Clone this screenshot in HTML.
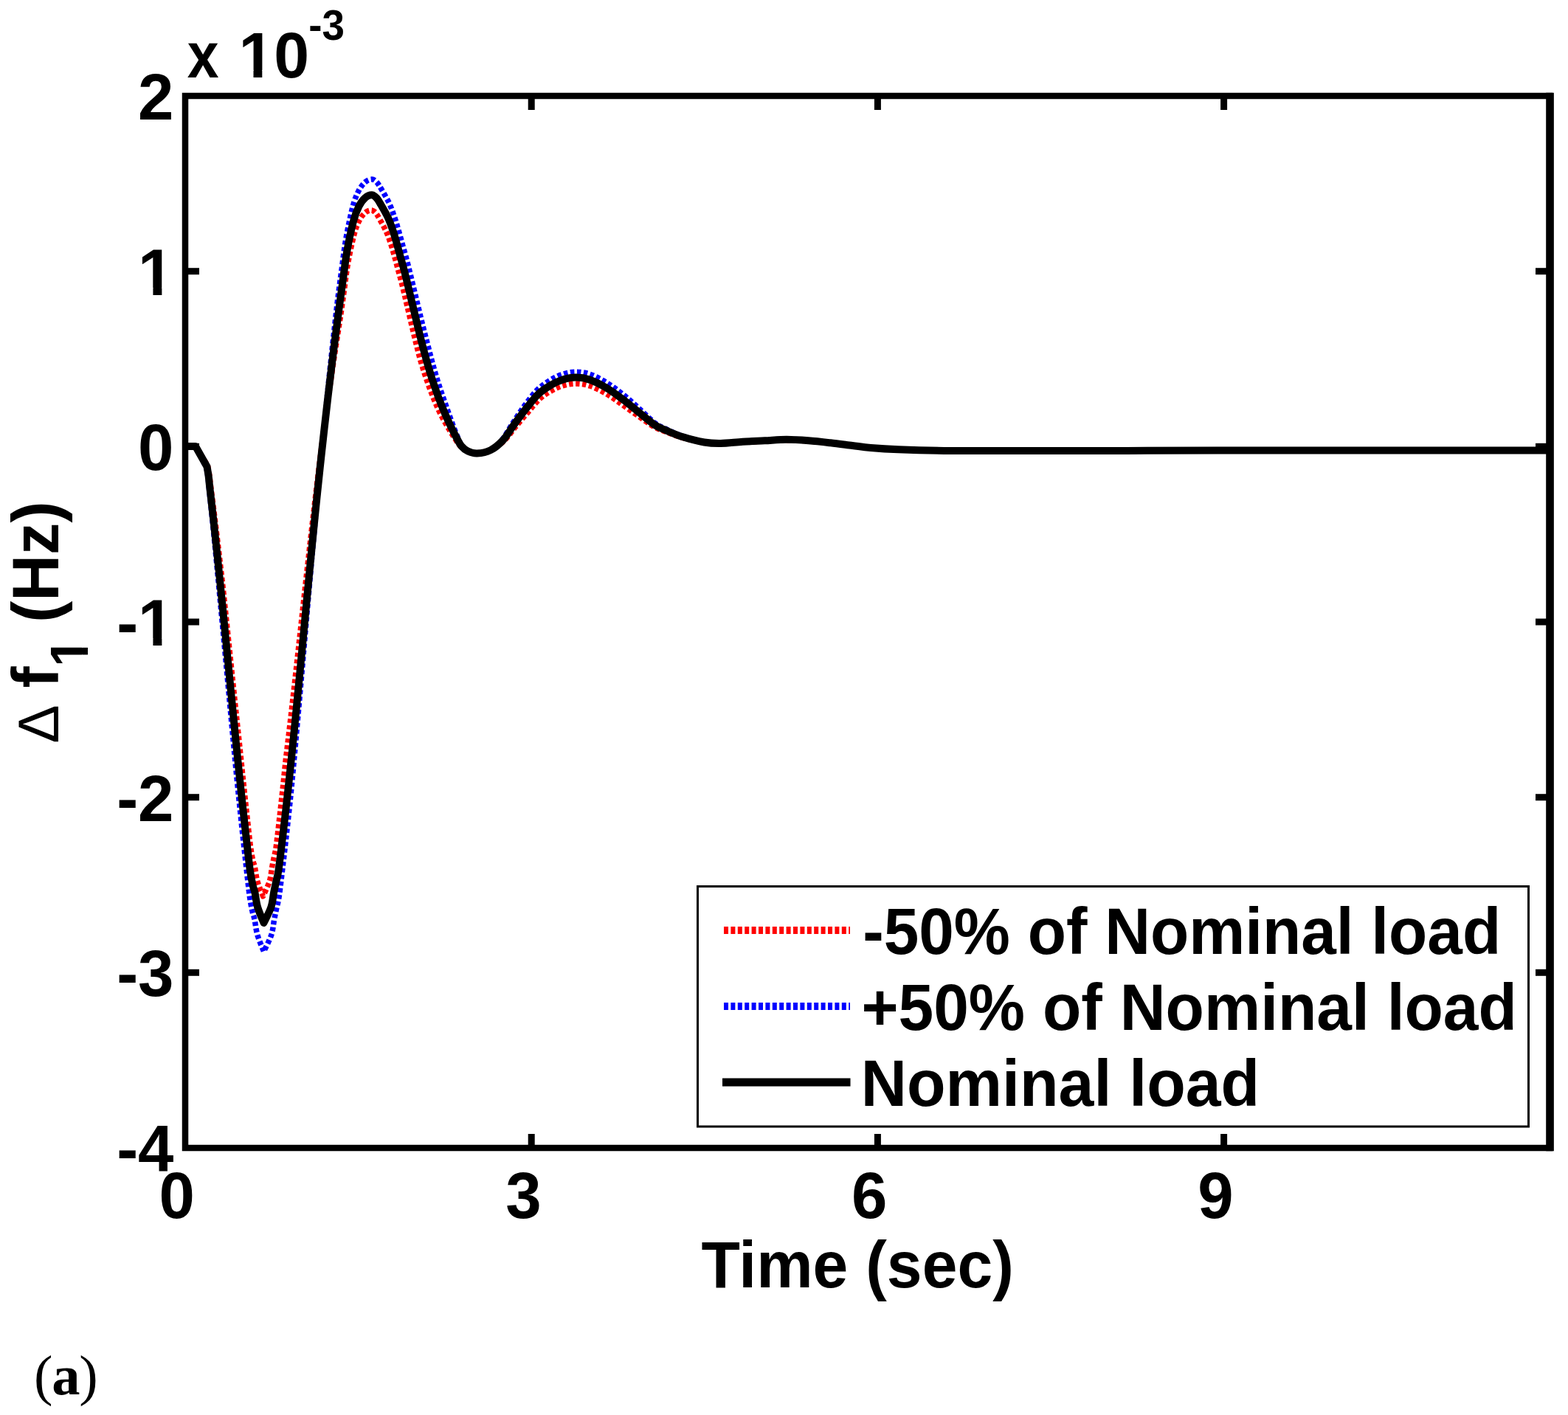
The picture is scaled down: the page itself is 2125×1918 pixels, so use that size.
<!DOCTYPE html>
<html><head><meta charset="utf-8"><title>Delta f1 vs time</title><style>
html,body{margin:0;padding:0;background:#fff;}
body{width:2125px;height:1918px;overflow:hidden;}
svg{display:block;}
.b{font-family:"Liberation Sans",Arial,Helvetica,sans-serif;font-weight:bold;fill:#000;}
.r{font-family:"Liberation Sans",Arial,Helvetica,sans-serif;font-weight:normal;fill:#000;}
</style></head><body>
<svg width="2125" height="1918" viewBox="0 0 2125 1918">
<rect x="0" y="0" width="2125" height="1918" fill="#fff"/>
<g fill="none" stroke-linejoin="round" stroke-linecap="butt">
<path d="M251.00,605.00 C253.33,605.00 262.67,605.00 265.00,605.00 C267.73,609.33 278.65,626.63 281.39,630.96 C281.76,632.93 282.95,638.43 283.61,642.76 C284.26,647.09 284.21,648.27 285.30,656.92 C286.38,665.57 288.55,682.09 290.13,694.68 C291.70,707.27 293.23,719.85 294.74,732.44 C296.24,745.03 297.71,757.61 299.17,770.20 C300.62,782.79 302.05,795.37 303.39,807.96 C304.73,820.55 306.05,833.13 307.37,845.72 C308.69,858.31 310.00,870.89 311.31,883.48 C312.62,896.07 313.93,908.65 315.24,921.24 C316.56,933.83 317.87,946.41 319.20,959.00 C320.53,971.59 321.88,984.17 323.24,996.76 C324.61,1009.35 325.90,1021.93 327.18,1034.52 C328.47,1047.11 329.77,1059.69 331.11,1072.28 C332.45,1084.87 333.81,1097.45 335.22,1110.04 C336.62,1122.63 338.26,1138.36 339.54,1147.80 C340.82,1157.24 341.91,1162.01 342.90,1166.68 C343.88,1171.35 344.46,1171.20 345.45,1175.84 C346.44,1180.48 346.99,1188.03 348.83,1194.53 C350.67,1201.03 355.22,1211.44 356.50,1214.82 C357.97,1211.44 363.29,1200.93 365.31,1194.40 C367.33,1187.86 367.59,1181.09 368.60,1175.65 C369.61,1170.20 370.42,1166.41 371.36,1161.72 C372.30,1157.03 373.00,1156.19 374.22,1147.51 C375.43,1138.84 377.23,1122.30 378.67,1109.70 C380.10,1097.10 381.49,1084.50 382.84,1071.90 C384.19,1059.30 385.49,1046.70 386.76,1034.11 C388.23,1021.52 389.75,1008.93 391.24,996.34 C392.73,983.75 394.18,971.16 395.62,958.57 C397.06,945.99 398.47,933.40 399.88,920.82 C401.28,908.24 402.67,895.66 404.05,883.08 C405.43,870.50 406.80,857.92 408.18,845.35 C409.55,832.77 410.92,820.20 412.31,807.62 C413.69,795.05 415.08,782.48 416.48,769.91 C417.88,757.34 419.29,744.77 420.71,732.20 C422.14,719.63 423.58,707.06 425.05,694.50 C426.52,681.93 428.01,669.37 429.52,656.81 C431.04,644.25 432.58,631.69 434.15,619.13 C435.75,606.57 437.40,594.01 439.09,581.46 C440.79,568.90 442.51,556.35 444.27,543.80 C446.03,531.25 447.83,518.70 449.67,506.15 C451.51,493.60 453.38,481.05 455.30,468.51 C457.21,455.97 459.17,443.42 461.17,430.88 C462.98,418.35 464.70,405.81 466.44,393.27 C468.19,380.74 469.52,368.31 471.78,355.68 C474.04,343.04 477.48,326.92 480.01,317.46 C482.55,308.00 484.49,303.79 486.99,298.90 C489.49,294.02 492.26,290.53 495.01,288.17 C497.76,285.82 501.06,284.72 503.50,284.89 C505.89,285.06 507.61,286.91 509.51,289.07 C511.40,291.22 512.49,293.55 514.86,297.82 C517.24,302.08 521.24,309.07 523.73,314.65 C526.23,320.22 528.00,325.71 529.83,331.26 C531.66,336.80 533.17,342.35 534.73,347.89 C536.28,353.43 537.67,358.97 539.16,364.50 C540.66,370.03 542.26,375.56 543.69,381.09 C545.12,386.61 546.46,392.24 547.76,397.65 C549.06,403.05 550.14,407.75 551.50,413.53 C552.86,419.30 554.46,426.05 555.93,432.30 C557.41,438.56 558.86,444.81 560.36,451.06 C561.85,457.31 563.34,463.55 564.91,469.79 C566.47,476.04 568.06,482.28 569.81,488.51 C571.68,494.75 573.60,500.98 575.65,507.22 C577.70,513.44 579.83,519.67 582.12,525.90 C584.42,532.12 586.82,538.34 589.41,544.56 C592.00,550.77 594.72,556.99 598.00,563.20 C601.28,569.40 605.28,576.38 608.50,581.80 C611.71,587.22 614.74,591.92 617.31,595.73 C619.87,599.53 621.13,602.08 623.89,604.63 C626.66,607.18 629.60,609.49 633.32,611.02 C637.04,612.54 641.05,614.00 646.47,613.78 C651.88,613.56 659.69,612.40 665.79,609.70 C671.90,607.01 677.61,602.87 683.12,597.64 C688.63,592.41 693.39,584.89 698.87,578.35 C704.35,571.82 710.26,564.71 715.99,558.41 C721.20,552.11 726.41,545.34 731.61,540.55 C736.80,535.77 742.02,532.67 747.20,529.71 C752.38,526.76 757.17,524.45 762.70,522.83 C768.23,521.22 774.33,519.95 780.38,520.01 C786.48,520.01 792.52,520.86 799.14,523.01 C805.76,525.16 813.13,528.95 820.10,532.93 C827.08,536.90 834.01,541.88 840.97,546.85 C848.02,551.83 855.73,557.48 863.43,562.78 C871.13,568.07 880.04,574.88 886.54,578.61 C893.04,582.34 895.85,582.72 902.30,585.16 C908.52,587.60 915.92,590.79 924.60,593.26 C933.28,595.73 945.72,598.65 954.40,600.00 C963.08,601.34 968.02,601.47 976.70,601.36 C985.38,601.25 996.57,599.92 1006.50,599.36 C1016.43,598.80 1026.38,598.45 1036.30,597.99 C1046.22,597.54 1056.08,596.63 1066.00,596.63 C1075.92,596.63 1085.88,597.31 1095.80,597.99 C1105.72,598.68 1115.58,599.71 1125.50,600.72 C1135.42,601.74 1146.22,603.07 1155.30,604.09 C1164.38,605.11 1169.62,606.02 1180.00,606.82 C1190.38,607.62 1199.43,608.31 1217.60,608.91 C1235.77,609.52 1257.27,610.20 1289.00,610.46 C1320.73,610.72 1368.33,610.46 1408.00,610.46 C1447.67,610.46 1486.67,610.54 1527.00,610.46 C1567.33,610.38 1554.50,610.08 1650.00,610.00 C1745.50,609.93 2025.00,610.00 2100.00,610.00" stroke="#ff0000" stroke-width="7.5" stroke-dasharray="5.5 3.5"/>
<path d="M251.00,605.00 C253.33,605.00 262.67,605.00 265.00,605.00 C267.49,609.86 277.47,629.29 279.97,634.15 C280.31,636.36 281.40,642.54 282.00,647.40 C282.59,652.26 282.55,653.58 283.54,663.30 C284.53,673.02 286.52,691.57 287.96,705.70 C289.39,719.83 290.79,733.97 292.17,748.10 C293.54,762.23 294.88,776.37 296.21,790.50 C297.54,804.63 298.85,818.77 300.19,832.90 C301.53,847.03 302.85,861.17 304.17,875.30 C305.49,889.43 306.80,903.57 308.11,917.70 C309.42,931.83 310.73,945.97 312.04,960.10 C313.36,974.23 314.67,988.37 316.00,1002.50 C317.33,1016.63 318.68,1030.77 320.04,1044.90 C321.41,1059.03 322.82,1073.17 324.27,1087.30 C325.73,1101.43 327.21,1115.57 328.72,1129.70 C330.24,1143.83 331.79,1157.97 333.38,1172.10 C334.97,1186.23 336.82,1203.90 338.27,1214.50 C339.72,1225.10 340.96,1230.45 342.08,1235.70 C343.20,1240.95 343.86,1240.77 344.98,1245.98 C346.10,1251.19 346.72,1259.67 348.81,1266.97 C350.89,1274.27 356.05,1285.96 357.50,1289.76 C359.22,1285.96 365.47,1274.31 367.83,1267.04 C370.20,1259.76 370.51,1252.16 371.69,1246.08 C372.87,1239.99 373.83,1235.76 374.93,1230.52 C376.02,1225.28 376.85,1224.35 378.28,1214.64 C379.70,1204.94 381.81,1186.40 383.49,1172.27 C385.18,1158.15 386.80,1144.02 388.39,1129.89 C389.97,1115.76 391.49,1101.63 392.99,1087.50 C394.41,1073.37 395.77,1059.24 397.09,1045.11 C398.42,1030.98 399.71,1016.85 400.99,1002.71 C402.27,988.58 403.52,974.44 404.77,960.31 C406.02,946.17 407.25,932.04 408.48,917.90 C409.71,903.76 410.93,889.63 412.15,875.49 C413.38,861.35 414.59,847.21 415.82,833.07 C417.05,818.93 418.29,804.79 419.53,790.65 C420.78,776.51 422.03,762.36 423.30,748.22 C424.57,734.08 425.85,719.93 427.15,705.79 C428.46,691.65 429.78,677.50 431.13,663.36 C432.48,649.21 433.85,635.06 435.25,620.92 C436.61,606.77 437.96,592.62 439.34,578.47 C440.71,564.32 442.12,550.17 443.55,536.02 C444.99,521.87 446.46,507.72 447.95,493.57 C449.45,479.41 450.98,465.26 452.54,451.11 C454.10,436.95 455.69,422.79 457.32,408.64 C459.09,394.48 460.99,380.32 462.92,366.16 C464.86,352.00 466.33,337.97 468.84,323.68 C471.35,309.39 475.16,291.15 477.97,280.44 C480.78,269.72 482.93,264.93 485.70,259.38 C488.47,253.83 491.54,249.83 494.59,247.13 C497.64,244.43 501.30,243.06 504.00,243.09 C506.77,243.12 508.77,245.10 510.97,247.41 C513.16,249.72 514.43,252.28 517.18,256.96 C519.93,261.64 524.58,269.31 527.47,275.48 C530.37,281.65 532.42,287.78 534.55,293.97 C536.67,300.16 538.42,306.39 540.23,312.60 C542.03,318.82 543.64,325.04 545.37,331.26 C547.11,337.48 548.96,343.70 550.62,349.92 C552.29,356.14 553.83,362.50 555.34,368.60 C556.85,374.71 558.10,380.02 559.68,386.55 C561.26,393.09 563.11,400.72 564.83,407.81 C566.54,414.90 568.23,421.98 569.96,429.07 C571.70,436.17 573.42,443.26 575.23,450.35 C577.05,457.45 578.89,464.54 580.78,471.64 C582.56,478.74 584.39,485.84 586.34,492.94 C588.30,500.04 590.33,507.15 592.52,514.25 C594.70,521.36 597.00,528.47 599.46,535.57 C601.93,542.69 604.52,549.80 606.92,556.91 C609.31,564.03 612.21,572.04 614.55,578.27 C616.89,584.50 619.09,589.92 620.95,594.30 C622.82,598.69 623.73,601.63 625.74,604.57 C627.75,607.51 630.47,610.19 634.00,611.96 C637.53,613.73 641.35,615.43 646.50,615.18 C651.50,614.93 658.68,613.60 664.30,610.47 C669.93,607.34 675.18,602.51 680.25,596.41 C685.33,590.30 689.71,581.51 694.75,573.84 C699.80,566.16 705.24,557.79 710.51,550.36 C716.12,542.91 721.78,534.89 727.43,529.20 C733.07,523.50 738.74,519.76 744.37,516.19 C750.00,512.62 755.19,509.81 761.20,507.80 C767.21,505.79 773.84,504.16 780.41,504.13 C787.01,504.13 793.55,505.14 800.71,507.69 C807.88,510.25 815.85,514.75 823.40,519.46 C830.94,524.18 838.45,530.08 845.98,535.99 C853.42,541.89 860.32,548.61 867.23,554.89 C874.13,561.17 882.11,569.25 887.93,573.68 C893.76,578.11 896.28,578.56 902.30,581.46 C908.52,584.35 915.92,588.13 924.60,591.07 C933.28,594.00 945.72,597.46 954.40,599.06 C963.08,600.66 968.02,600.81 976.70,600.68 C985.38,600.55 996.57,598.97 1006.50,598.30 C1016.43,597.64 1026.38,597.22 1036.30,596.68 C1046.22,596.14 1056.08,595.06 1066.00,595.06 C1075.92,595.06 1085.88,595.87 1095.80,596.68 C1105.72,597.49 1115.58,598.72 1125.50,599.92 C1135.42,601.13 1146.22,602.71 1155.30,603.92 C1164.38,605.13 1169.62,606.21 1180.00,607.16 C1190.38,608.11 1199.43,608.92 1217.60,609.64 C1235.77,610.36 1257.27,611.17 1289.00,611.48 C1320.73,611.79 1368.33,611.48 1408.00,611.48 C1447.67,611.48 1486.67,611.57 1527.00,611.48 C1567.33,611.39 1554.50,611.03 1650.00,610.94 C1745.50,610.85 2025.00,610.94 2100.00,610.94" stroke="#0000ff" stroke-width="7.5" stroke-dasharray="5.5 3.5"/>
<path d="M251.00,605.00 C253.33,605.00 262.67,605.00 265.00,605.00 C267.58,609.58 277.92,627.92 280.50,632.50 C280.85,634.58 281.98,640.42 282.60,645.00 C283.22,649.58 283.17,650.83 284.20,660.00 C285.23,669.17 287.28,686.67 288.77,700.00 C290.26,713.33 291.70,726.67 293.13,740.00 C294.56,753.33 295.94,766.67 297.32,780.00 C298.70,793.33 300.05,806.67 301.39,820.00 C302.73,833.33 304.05,846.67 305.37,860.00 C306.69,873.33 308.00,886.67 309.31,900.00 C310.62,913.33 311.93,926.67 313.24,940.00 C314.56,953.33 315.87,966.67 317.20,980.00 C318.53,993.33 319.88,1006.67 321.24,1020.00 C322.61,1033.33 323.98,1046.67 325.39,1060.00 C326.80,1073.33 328.22,1086.67 329.69,1100.00 C331.16,1113.33 332.65,1126.67 334.19,1140.00 C335.73,1153.33 337.52,1170.00 338.92,1180.00 C340.32,1190.00 341.52,1195.05 342.60,1200.00 C343.68,1204.95 344.32,1204.78 345.40,1209.70 C346.48,1214.62 347.08,1222.62 349.10,1229.50 C351.12,1236.38 356.10,1247.42 357.50,1251.00 C359.15,1247.42 365.13,1236.38 367.40,1229.50 C369.67,1222.62 369.97,1215.45 371.10,1209.70 C372.23,1203.95 373.15,1199.95 374.20,1195.00 C375.25,1190.05 376.04,1189.17 377.41,1180.00 C378.78,1170.83 380.80,1153.33 382.41,1140.00 C384.03,1126.67 385.58,1113.33 387.10,1100.00 C388.62,1086.67 390.07,1073.33 391.51,1060.00 C392.95,1046.67 394.35,1033.33 395.72,1020.00 C397.09,1006.67 398.43,993.33 399.75,980.00 C401.07,966.67 402.38,953.33 403.67,940.00 C404.96,926.67 406.24,913.33 407.51,900.00 C408.78,886.67 410.04,873.33 411.31,860.00 C412.58,846.67 413.84,833.33 415.11,820.00 C416.38,806.67 417.66,793.33 418.95,780.00 C420.24,766.67 421.54,753.33 422.85,740.00 C424.17,726.67 425.49,713.33 426.84,700.00 C428.19,686.67 429.56,673.33 430.96,660.00 C432.36,646.67 433.77,633.33 435.22,620.00 C436.67,606.67 438.14,593.33 439.64,580.00 C441.14,566.67 442.67,553.33 444.24,540.00 C445.81,526.67 447.41,513.33 449.04,500.00 C450.67,486.67 452.34,473.33 454.04,460.00 C455.74,446.67 457.48,433.33 459.26,420.00 C461.04,406.67 462.86,393.33 464.71,380.00 C466.56,366.67 467.97,353.45 470.37,340.00 C472.77,326.55 476.41,309.38 479.10,299.30 C481.79,289.22 483.85,284.72 486.50,279.50 C489.15,274.28 492.08,270.53 495.00,268.00 C497.92,265.47 501.42,264.22 504.00,264.30 C506.58,264.38 508.45,266.28 510.50,268.50 C512.55,270.72 513.73,273.15 516.30,277.60 C518.87,282.05 523.20,289.35 525.90,295.20 C528.60,301.05 530.52,306.85 532.50,312.70 C534.48,318.55 536.12,324.43 537.80,330.30 C539.48,336.17 540.98,342.03 542.60,347.90 C544.22,353.77 545.95,359.63 547.50,365.50 C549.05,371.37 550.49,377.35 551.90,383.10 C553.31,388.85 554.48,393.85 555.95,400.00 C557.43,406.15 559.15,413.33 560.75,420.00 C562.35,426.67 563.92,433.33 565.54,440.00 C567.16,446.67 568.77,453.33 570.46,460.00 C572.15,466.67 573.87,473.33 575.69,480.00 C577.51,486.67 579.37,493.33 581.37,500.00 C583.37,506.67 585.44,513.33 587.67,520.00 C589.90,526.67 592.24,533.33 594.76,540.00 C597.28,546.67 599.92,553.33 602.78,560.00 C605.64,566.67 609.11,574.17 611.91,580.00 C614.71,585.83 617.34,590.90 619.57,595.00 C621.80,599.10 622.89,601.85 625.30,604.60 C627.70,607.35 630.47,609.85 634.00,611.50 C637.53,613.15 641.35,614.73 646.50,614.50 C651.65,614.27 659.08,613.02 664.90,610.10 C670.72,607.18 676.15,602.68 681.40,597.00 C686.65,591.32 691.18,583.13 696.40,576.00 C701.62,568.87 707.25,561.10 712.70,554.20 C718.15,547.30 723.63,539.87 729.10,534.60 C734.57,529.33 740.05,525.88 745.50,522.60 C750.95,519.32 755.98,516.73 761.80,514.90 C767.62,513.07 774.03,511.60 780.40,511.60 C786.77,511.60 793.08,512.53 800.00,514.90 C806.92,517.27 814.62,521.43 821.90,525.80 C829.18,530.17 836.43,535.63 843.70,541.10 C850.97,546.57 858.23,552.78 865.50,558.60 C872.77,564.42 881.17,571.90 887.30,576.00 C893.43,580.10 896.08,580.52 902.30,583.20 C908.52,585.88 915.92,589.38 924.60,592.10 C933.28,594.82 945.72,598.02 954.40,599.50 C963.08,600.98 968.02,601.12 976.70,601.00 C985.38,600.88 996.57,599.42 1006.50,598.80 C1016.43,598.18 1026.38,597.80 1036.30,597.30 C1046.22,596.80 1056.08,595.80 1066.00,595.80 C1075.92,595.80 1085.88,596.55 1095.80,597.30 C1105.72,598.05 1115.58,599.18 1125.50,600.30 C1135.42,601.42 1146.22,602.88 1155.30,604.00 C1164.38,605.12 1169.62,606.12 1180.00,607.00 C1190.38,607.88 1199.43,608.63 1217.60,609.30 C1235.77,609.97 1257.27,610.72 1289.00,611.00 C1320.73,611.28 1368.33,611.00 1408.00,611.00 C1447.67,611.00 1486.67,611.08 1527.00,611.00 C1567.33,610.92 1554.50,610.58 1650.00,610.50 C1745.50,610.42 2025.00,610.50 2100.00,610.50" stroke="#000" stroke-width="10"/>
</g>
<rect x="251" y="130" width="1849" height="1426" fill="none" stroke="#000" stroke-width="8.5"/>
<rect x="2095.25" y="125.75" width="10.6" height="1434.5" fill="#000"/>
<g stroke="#000" stroke-width="9">
<line x1="251" y1="367.7" x2="270" y2="367.7"/><line x1="2100" y1="367.7" x2="2081" y2="367.7"/>
<line x1="251" y1="605.3" x2="270" y2="605.3"/><line x1="2100" y1="605.3" x2="2081" y2="605.3"/>
<line x1="251" y1="843.0" x2="270" y2="843.0"/><line x1="2100" y1="843.0" x2="2081" y2="843.0"/>
<line x1="251" y1="1080.7" x2="270" y2="1080.7"/><line x1="2100" y1="1080.7" x2="2081" y2="1080.7"/>
<line x1="251" y1="1318.3" x2="270" y2="1318.3"/><line x1="2100" y1="1318.3" x2="2081" y2="1318.3"/>
<line x1="720.2" y1="1556" x2="720.2" y2="1537"/><line x1="720.2" y1="130" x2="720.2" y2="149"/>
<line x1="1189.4" y1="1556" x2="1189.4" y2="1537"/><line x1="1189.4" y1="130" x2="1189.4" y2="149"/>
<line x1="1658.6" y1="1556" x2="1658.6" y2="1537"/><line x1="1658.6" y1="130" x2="1658.6" y2="149"/>
</g>
<text class="b" transform="translate(187.11,162.00) scale(1.0,1.02)" x="0" y="0" font-size="87">2</text>
<text class="b" transform="translate(187.11,399.67) scale(1.0,1.02)" x="0" y="0" font-size="87">1</text>
<rect x="191.09" y="390.01" width="16.33" height="11.26" fill="#fff"/>
<rect x="219.36" y="390.01" width="15.22" height="11.26" fill="#fff"/>
<text class="b" transform="translate(187.11,637.33) scale(1.0,1.02)" x="0" y="0" font-size="87">0</text>
<text class="b" transform="translate(158.14,875.00) scale(1.0,1.02)" x="0" y="0" font-size="87">-1</text>
<rect x="191.09" y="865.34" width="16.33" height="11.26" fill="#fff"/>
<rect x="219.36" y="865.34" width="15.22" height="11.26" fill="#fff"/>
<text class="b" transform="translate(158.14,1112.67) scale(1.0,1.02)" x="0" y="0" font-size="87">-2</text>
<text class="b" transform="translate(158.14,1350.33) scale(1.0,1.02)" x="0" y="0" font-size="87">-3</text>
<text class="b" transform="translate(158.14,1588.00) scale(1.0,1.02)" x="0" y="0" font-size="87">-4</text>
<text class="b" transform="translate(215.57,1651.00) scale(1.0,1.02)" x="0" y="0" font-size="87">0</text>
<text class="b" transform="translate(685.28,1651.00) scale(1.0,1.02)" x="0" y="0" font-size="87">3</text>
<text class="b" transform="translate(1153.89,1651.00) scale(1.0,1.02)" x="0" y="0" font-size="87">6</text>
<text class="b" transform="translate(1623.21,1651.00) scale(1.0,1.02)" x="0" y="0" font-size="87">9</text>
<text class="b" transform="translate(253.77,104.50) scale(0.895,1.02)" x="0" y="0" font-size="86">x</text>
<text class="b" transform="translate(323.42,104.50) scale(1.0,1.02)" x="0" y="0" font-size="86">10</text>
<rect x="327.34" y="94.95" width="16.16" height="11.15" fill="#fff"/>
<rect x="355.29" y="94.95" width="15.06" height="11.15" fill="#fff"/>
<text class="b" transform="translate(418.26,53.50) scale(0.96,1.02)" x="0" y="0" font-size="57">-3</text>
<text class="b" transform="translate(950.43,1745.00) scale(0.9877,1.02)" x="0" y="0" font-size="87">Time (sec)</text>
<g transform="translate(79.3,1005.3) rotate(-90)">
<text class="r" transform="translate(-2.32,0.00) scale(1.0,1.0)" x="0" y="0" font-size="78">&#916;</text>
<text class="b" transform="translate(72.81,0.00) scale(1.0,1.02)" x="0" y="0" font-size="87">f</text>
<text class="b" transform="translate(101.51,39.60) scale(1.0,1.02)" x="0" y="0" font-size="70">1</text>
<rect x="104.42" y="31.71" width="13.43" height="9.49" fill="#fff"/>
<rect x="127.46" y="31.71" width="12.54" height="9.49" fill="#fff"/>
<text class="b" transform="translate(161.57,0.00) scale(1.0,1.02)" x="0" y="0" font-size="87">(Hz)</text>
</g>
<rect x="945.5" y="1201.5" width="1126" height="325.5" fill="none" stroke="#000" stroke-width="3"/>
<line x1="981" y1="1261" x2="1152" y2="1261" stroke="#ff0000" stroke-width="10" stroke-dasharray="6 3.4"/>
<line x1="981" y1="1364" x2="1152" y2="1364" stroke="#0000ff" stroke-width="10" stroke-dasharray="6 3.4"/>
<line x1="979" y1="1467" x2="1152.5" y2="1467" stroke="#000" stroke-width="11"/>
<text class="b" transform="translate(1169.26,1292.50) scale(0.9832,1.02)" x="0" y="0" font-size="87">-50% of Nominal load</text>
<text class="b" transform="translate(1167.40,1395.80) scale(0.9855,1.02)" x="0" y="0" font-size="87">+50% of Nominal load</text>
<text class="b" transform="translate(1166.84,1498.50) scale(0.9892,1.02)" x="0" y="0" font-size="87">Nominal load</text>
<text x="46" y="1890" font-size="76.5" letter-spacing="-1.2" font-family="Liberation Serif, Times New Roman, serif" fill="#000">(<tspan font-weight="bold">a</tspan>)</text>
</svg>
</body></html>
